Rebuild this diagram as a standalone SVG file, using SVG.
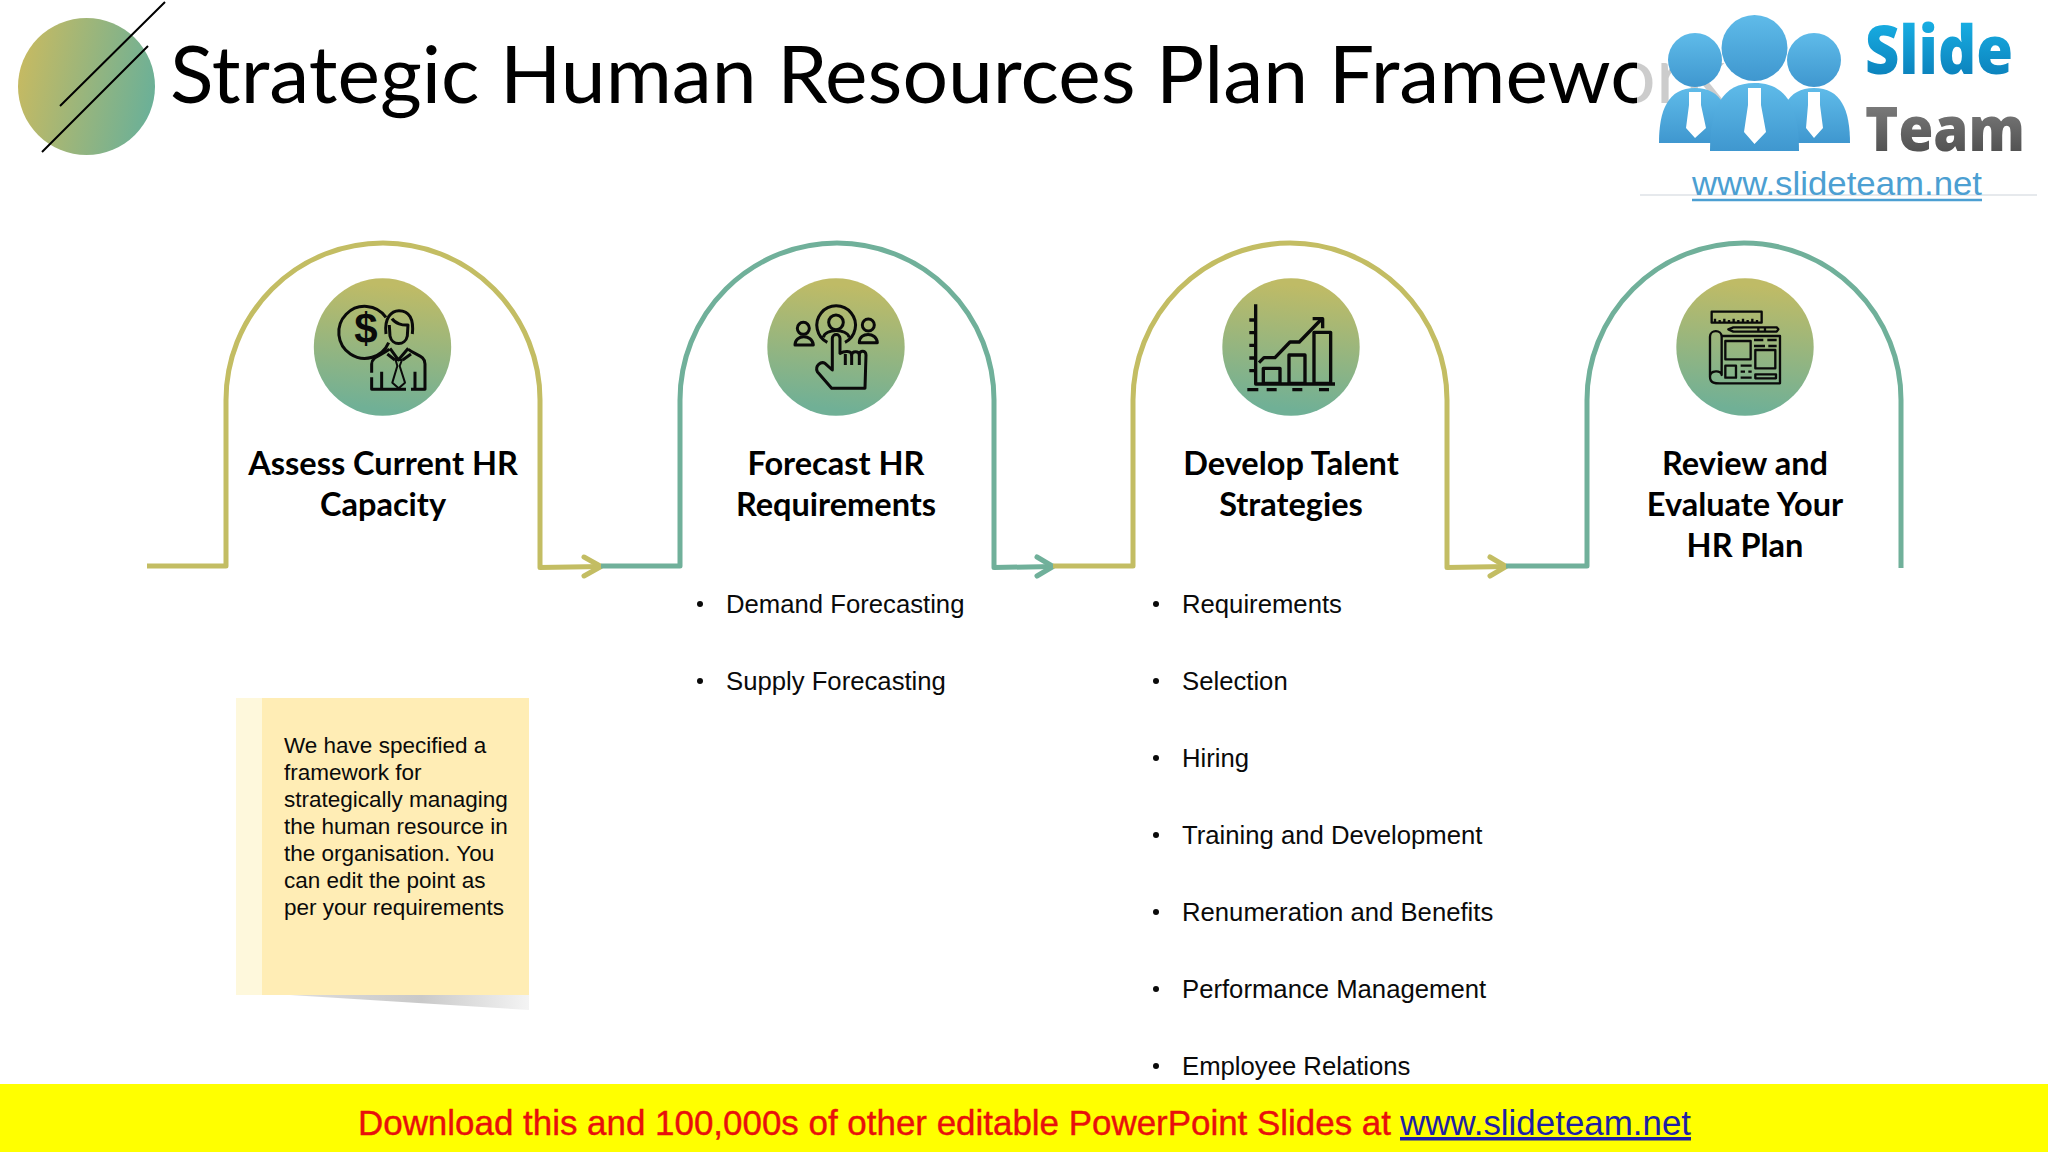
<svg xmlns="http://www.w3.org/2000/svg" width="2048" height="1152" viewBox="0 0 2048 1152">
<style>
.lab{font-family:"Lato","Open Sans",sans-serif;font-weight:700;font-size:32.5px;fill:#000;text-anchor:middle}
.bul{font-family:"Liberation Sans",Arial,sans-serif;font-size:25.700px;fill:#0a0a0a}
.note{font-family:"Liberation Sans",Arial,sans-serif;font-size:22.500px;fill:#0a0a0a}
.arc{fill:none;stroke-width:5;stroke-linejoin:round}
.y{stroke:#C3BD63}.t{stroke:#70B09A}
.ic{fill:none;stroke:#0a0a0a;stroke-width:9;stroke-linejoin:round;stroke-linecap:butt}
.disc{fill:url(#dg)}
</style>
<defs>
<linearGradient id="dg" x1="0.55" y1="0" x2="0.45" y2="1"><stop offset="0.05" stop-color="#BFBB66"/><stop offset="0.95" stop-color="#70B096"/></linearGradient>
<linearGradient id="tg" x1="0" y1="0.4" x2="1" y2="0.6"><stop offset="0" stop-color="#C6BA62"/><stop offset="1" stop-color="#6AB098"/></linearGradient>
<linearGradient id="sg" x1="0" y1="0" x2="1" y2="0"><stop offset="0" stop-color="#ddd"/><stop offset="0.55" stop-color="#c9c9c9"/><stop offset="1" stop-color="#f4f4f4"/></linearGradient>
<linearGradient id="bl" x1="0" y1="0" x2="0" y2="1"><stop offset="0" stop-color="#5FBBE9"/><stop offset="1" stop-color="#3F97CF"/></linearGradient>
<linearGradient id="sl" x1="0" y1="0" x2="0" y2="1"><stop offset="0" stop-color="#1CBDF0"/><stop offset="1" stop-color="#0874B0"/></linearGradient>
<linearGradient id="tm" x1="0" y1="0" x2="0" y2="1"><stop offset="0" stop-color="#8c8c8c"/><stop offset="1" stop-color="#434343"/></linearGradient>
</defs>
<rect width="2048" height="1152" fill="#fff"/>

<g id="title">
<circle cx="86.500" cy="86.500" r="68.500" fill="url(#tg)"/>
<path d="M60,106 L165,2 M42,152 L148,46" stroke="#000" stroke-width="2" fill="none"/>
<text x="170" y="103" font-family="Lato,'Open Sans',sans-serif" font-size="80" fill="#000" textLength="1556" lengthAdjust="spacingAndGlyphs">Strategic Human Resources Plan Framework</text>
</g>

<g id="connectors">
<path class="arc y" d="M147,566 L226,566 L226,400 A157,157 0 0 1 540,400 L540,567.500 L601,566.500"/>
<path class="arc y" d="M584,557 L601,566.500 L584,576" stroke-linecap="round"/>
<path class="arc t" d="M601,566 L680,566 L680,400 A157,157 0 0 1 994,400 L994,567.500 L1053,566.500"/>
<path class="arc t" d="M1037,557 L1053,566.500 L1037,576" stroke-linecap="round"/>
<path class="arc y" d="M1053,566 L1133,566 L1133,400 A157,157 0 0 1 1447,400 L1447,567.500 L1506,566.500"/>
<path class="arc y" d="M1490,557 L1506,566.500 L1490,576" stroke-linecap="round"/>
<path class="arc t" d="M1506,566 L1587,566 L1587,400 A157,157 0 0 1 1901,400 L1901,568"/>
</g>

<g id="node-assess">
<circle class="disc" cx="382.500" cy="347" r="68.700"/>
<g class="ic" transform="translate(280,260) scale(.3333)">
<path d="M318,172 A78,78 0 1 0 326,248"/>
<path d="M318,222 C312,172 335,152 357,152 C388,152 402,178 397,222"/>
<path d="M328,195 L330,228 C336,258 376,258 382,228 L384,195 C368,197 345,190 336,176"/>
<path d="M330,265 L355,300 L385,265 M322,282 L345,300 M393,282 L368,300"/>
<path d="M275,338 L275,312 C275,290 302,287 328,268 M385,268 C410,287 435,287 435,312 L435,388 L393,388 M378,388 L275,388 L275,352 M305,335 L305,388 M405,335 L405,388"/>
<path d="M347,300 L366,300 L359,318 L375,368 L356,385 L337,368 L352,318 Z" stroke-width="6"/>
</g>
<text x="366" y="343" font-family="'Liberation Sans',sans-serif" font-weight="700" font-size="42" text-anchor="middle" fill="#0a0a0a">$</text>
<text class="lab" x="383" y="475">Assess Current HR</text>
<text class="lab" x="383" y="516">Capacity</text>
</g>

<g id="node-forecast">
<circle class="disc" cx="836" cy="347" r="68.700"/>
<g class="ic" transform="translate(740,260) scale(.3333)">
<path d="M262,247 A58,58 0 1 1 315,247"/>
<circle cx="288" cy="187" r="22"/>
<path d="M250,232 C256,205 320,205 328,232"/>
<circle cx="190" cy="205" r="18"/>
<path d="M165,255 C165,222 217,222 220,255 Z"/>
<circle cx="385" cy="195" r="18"/>
<path d="M358,248 C358,215 410,215 412,248 Z"/>
<path d="M277,235 L277,330 L255,310 C243,303 224,317 232,335 L275,385 L375,385 L378,285 C378,270 358,270 358,285 C358,272 336,272 335,285 C335,272 314,272 300,280 L300,235 C300,220 277,220 277,235 Z"/>
<path d="M335,285 L335,315 M358,285 L358,315 M316,282 L316,315"/>
</g>
<text class="lab" x="836" y="475">Forecast HR</text>
<text class="lab" x="836" y="516">Requirements</text>
<g class="bul">
<circle cx="700" cy="604" r="3"/><text x="726" y="613">Demand Forecasting</text>
<circle cx="700" cy="681" r="3"/><text x="726" y="690">Supply Forecasting</text>
</g>
</g>

<g id="node-talent">
<circle class="disc" cx="1291" cy="347" r="68.700"/>
<g class="ic" transform="translate(1190,260) scale(.3333)" style="stroke-width:10">
<path d="M197,133 L197,372 L435,372"/>
<path d="M178,180 H197 M178,218 H197 M178,256 H197 M178,294 H197 M178,332 H197"/>
<rect x="220" y="325" width="50" height="45"/><rect x="297" y="285" width="48" height="85"/><rect x="372" y="217" width="50" height="153"/>
<path d="M172,389 H205 M230,389 H260 M307,389 H337 M387,389 H417"/>
<path d="M207,308 L222,293 L255,293 L300,246 L328,246 L392,180"/>
<path d="M368,176 L398,176 L398,205"/>
</g>
<text class="lab" x="1291" y="475">Develop Talent</text>
<text class="lab" x="1291" y="516">Strategies</text>
<g class="bul">
<circle cx="1156" cy="604" r="3"/><text x="1182" y="613">Requirements</text>
<circle cx="1156" cy="681" r="3"/><text x="1182" y="690">Selection</text>
<circle cx="1156" cy="758" r="3"/><text x="1182" y="767">Hiring</text>
<circle cx="1156" cy="835" r="3"/><text x="1182" y="844">Training and Development</text>
<circle cx="1156" cy="912" r="3"/><text x="1182" y="921">Renumeration and Benefits</text>
<circle cx="1156" cy="989" r="3"/><text x="1182" y="998">Performance Management</text>
<circle cx="1156" cy="1066" r="3"/><text x="1182" y="1075">Employee Relations</text>
</g>
</g>

<g id="node-review">
<circle class="disc" cx="1745" cy="347" r="68.700"/>
<g class="ic" transform="translate(1650,260) scale(.3333)" style="stroke-width:7">
<rect x="185" y="155" width="150" height="33"/>
<path d="M195,188 V176 M209,188 V180 M223,188 V176 M237,188 V180 M251,188 V176 M265,188 V180 M279,188 V176 M293,188 V180 M307,188 V176 M321,188 V180"/>
<path d="M235,208 L250,202 L380,202 L385,208 L380,215 L250,215 Z M325,202 V215 M345,202 V215"/>
<path d="M180,350 L180,230 C180,208 215,208 215,230 L215,345 C215,330 180,330 180,350 C180,372 200,370 215,370 L390,370 L390,228 L215,228"/>
<rect x="226" y="243" width="76" height="55"/><rect x="316" y="270" width="60" height="55"/><rect x="226" y="317" width="32" height="36"/><rect x="316" y="343" width="62" height="12"/>
<path d="M312,240 H340 M352,240 H380 M312,258 H345 M355,258 H380 M272,317 H305 M272,335 H285 M295,335 H305 M272,353 H305"/>
</g>
<text class="lab" x="1745" y="475">Review and</text>
<text class="lab" x="1745" y="516">Evaluate Your</text>
<text class="lab" x="1745" y="557">HR Plan</text>
</g>

<g id="note">
<rect x="236" y="698" width="26" height="297" fill="#FEF8DC"/>
<rect x="262" y="698" width="267" height="297" fill="#FFEDB5"/>
<path d="M290,995 L529,995 L529,1010 Z" fill="url(#sg)"/>
<g class="note">
<text x="284" y="753">We have specified a</text>
<text x="284" y="780">framework for</text>
<text x="284" y="807">strategically managing</text>
<text x="284" y="834">the human resource in</text>
<text x="284" y="861">the organisation. You</text>
<text x="284" y="888">can edit the point as</text>
<text x="284" y="915">per your requirements</text>
</g>
</g>

<g id="logo">
<rect x="1637" y="0" width="400" height="195" fill="#fff" fill-opacity=".8"/>
<path d="M1640,195 H2037" stroke="#cdd3da" stroke-width="1"/>
<path d="M1659,143 C1659,110 1668,88 1695,88 C1722,88 1731,110 1731,143 Z" fill="url(#bl)"/>
<path d="M1778,143 C1778,110 1787,88 1814,88 C1841,88 1850,110 1850,143 Z" fill="url(#bl)"/>
<circle cx="1695" cy="60" r="27" fill="url(#bl)"/>
<circle cx="1814" cy="60" r="27" fill="url(#bl)"/>
<path d="M1710,151 C1710,108 1722,83 1754.500,83 C1787,83 1799,108 1799,151 Z" fill="url(#bl)"/>
<circle cx="1754.500" cy="48" r="33" fill="url(#bl)"/>
<path d="M1689,92 H1701 V105 L1706,128 L1695,138 L1686,128 L1689,105 Z M1748,88 H1761 V105 L1766,132 L1754.500,144 L1744,132 L1748,105 Z M1808,92 H1820 V105 L1823,128 L1814,138 L1806,128 L1808,105 Z" fill="#fff"/>
<text x="1865" y="74" font-family="'Open Sans',sans-serif" font-weight="800" font-size="67" fill="url(#sl)" textLength="148" lengthAdjust="spacingAndGlyphs">Slide</text>
<text x="1865" y="151" font-family="'Open Sans',sans-serif" font-weight="800" font-size="62" fill="url(#tm)" textLength="160" lengthAdjust="spacingAndGlyphs">Team</text>
<text x="1692" y="195" font-family="'Liberation Sans',sans-serif" font-size="33" fill="#4C9FD2" textLength="290" lengthAdjust="spacingAndGlyphs">www.slideteam.net</text>
<path d="M1692,200 H1982" stroke="#4C9FD2" stroke-width="2.500"/>
</g>

<g id="footer">
<rect x="0" y="1084" width="2048" height="68" fill="#FFFF00"/>
<text x="358" y="1135" font-family="'Liberation Sans',sans-serif" font-size="35" fill="#E8100C" stroke="#E8100C" stroke-width=".4" textLength="1033" lengthAdjust="spacingAndGlyphs">Download this and 100,000s of other editable PowerPoint Slides at</text>
<text x="1400" y="1135" font-family="'Liberation Sans',sans-serif" font-size="35" fill="#1F1FA5" text-decoration="underline" textLength="291" lengthAdjust="spacingAndGlyphs">www.slideteam.net</text>
</g>
</svg>
